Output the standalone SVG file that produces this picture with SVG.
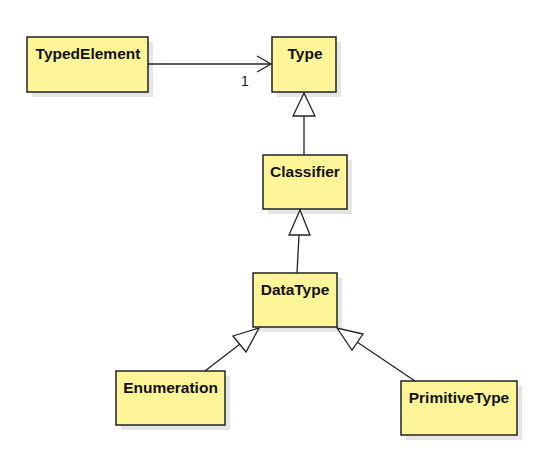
<svg xmlns="http://www.w3.org/2000/svg" width="550" height="459" viewBox="0 0 550 459">
<defs>
<style>
.sh{fill:#e6e6e6;}
.box{fill:#fdf597;stroke:#222;stroke-width:1.5;}
.lbl{font-family:"Liberation Sans",Arial,sans-serif;font-weight:bold;font-size:15.5px;fill:#111;text-anchor:middle;}
.ln{stroke:#222;stroke-width:1.3;fill:none;}
.tri{fill:#fff;stroke:#222;stroke-width:1.3;stroke-linejoin:miter;}
.mult{font-family:"Liberation Sans",Arial,sans-serif;font-size:14px;fill:#222;}
</style>
</defs>
<rect width="550" height="459" fill="#fff"/>
<g id="TypedElement">
<rect class="sh" x="32" y="42" width="121" height="55"/>
<rect class="box" x="27" y="37" width="121" height="55"/>
<text class="lbl" x="88" y="58.5">TypedElement</text>
</g>
<g id="Type">
<rect class="sh" x="277" y="42" width="64" height="55"/>
<rect class="box" x="272" y="37" width="64" height="55"/>
<text class="lbl" x="305" y="58.5">Type</text>
</g>
<g id="Classifier">
<rect class="sh" x="268" y="160" width="84" height="54"/>
<rect class="box" x="263" y="155" width="84" height="54"/>
<text class="lbl" x="305" y="177">Classifier</text>
</g>
<g id="DataType">
<rect class="sh" x="258" y="278" width="84" height="54"/>
<rect class="box" x="253" y="273" width="84" height="54"/>
<text class="lbl" x="295" y="295">DataType</text>
</g>
<g id="Enumeration">
<rect class="sh" x="121" y="376" width="109" height="54"/>
<rect class="box" x="116" y="371" width="109" height="54"/>
<text class="lbl" x="170.5" y="393">Enumeration</text>
</g>
<g id="PrimitiveType">
<rect class="sh" x="406" y="386" width="116" height="54"/>
<rect class="box" x="401" y="381" width="116" height="54"/>
<text class="lbl" x="459" y="403">PrimitiveType</text>
</g>
<g id="connectors">
<line class="ln" x1="148" y1="64" x2="271" y2="64"/>
<polyline class="ln" points="257,56 271,64 257,72"/>
<text class="mult" x="241" y="86">1</text>
<line class="ln" x1="304" y1="155" x2="304" y2="116"/>
<polygon class="tri" points="304,93 293,116 315,116"/>
<line class="ln" x1="297" y1="273" x2="299" y2="235"/>
<polygon class="tri" points="300,210 289,235 310,235"/>
<line class="ln" x1="205" y1="371" x2="240" y2="344"/>
<polygon class="tri" points="259,328 233,336 246,352"/>
<line class="ln" x1="415" y1="381" x2="357" y2="342"/>
<polygon class="tri" points="337,328 352,350 363,334"/>
</g>
</svg>
